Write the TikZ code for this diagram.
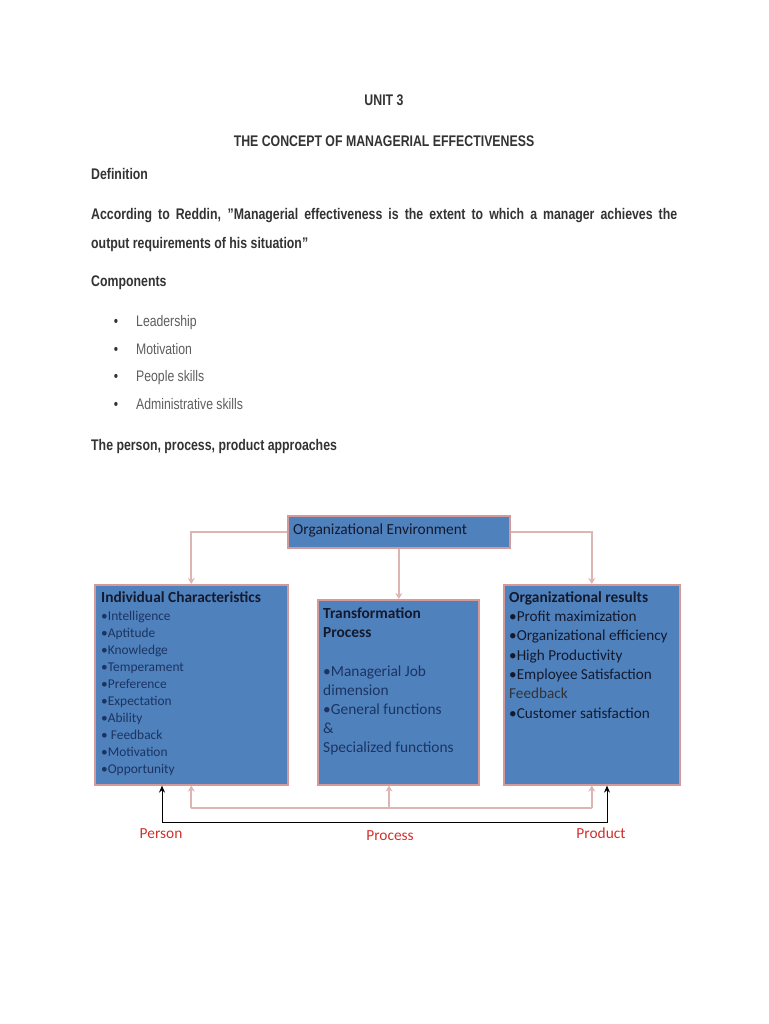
\documentclass[tikz,border=0pt]{standalone}
\usepackage{fontspec}
\usetikzlibrary{arrows.meta}
\newfontfamily\narrowfont[FakeStretch=0.80]{Liberation Sans}
\newfontfamily\calfont{Carlito}
\definecolor{boxblue}{HTML}{4F81BD}
\definecolor{boxedge}{HTML}{D49A9A}
\definecolor{pinkline}{HTML}{DDB5B3}
\definecolor{navytext}{HTML}{1C3461}
\definecolor{darktext}{HTML}{141A2E}
\definecolor{labelred}{HTML}{D0312D}
\definecolor{doctext}{HTML}{333333}
\definecolor{graytext}{HTML}{5E5E5E}
\tikzset{
  doc/.style={inner sep=0pt, anchor=base west, font=\narrowfont\bfseries\fontsize{15.4}{18}\selectfont, text=doctext},
  bul/.style={inner sep=0pt, anchor=base west, font=\narrowfont\fontsize{15.3}{18}\selectfont, text=graytext},
  bluebox/.style={draw=boxedge, line width=1.6pt, fill=boxblue, inner sep=0pt, anchor=north west},
  boxtitle/.style={inner sep=0pt, anchor=base west, font=\calfont\bfseries\fontsize{15.4}{17}\selectfont, text=darktext},
  boxitem/.style={inner sep=0pt, anchor=base west, font=\calfont\fontsize{13.4}{17}\selectfont, text=navytext},
  boxitemb/.style={inner sep=0pt, anchor=base west, font=\calfont\fontsize{15.4}{17}\selectfont, text=navytext},
  boxitemc/.style={inner sep=0pt, anchor=base west, font=\calfont\fontsize{15.2}{17}\selectfont, text=darktext},
  pinkarrow/.style={draw=pinkline, line width=1.8pt, -{Stealth[length=6pt,width=7pt]}},
  pinkline/.style={draw=pinkline, line width=1.8pt},
  blackarrow/.style={draw=black, line width=1pt, {Stealth[length=7pt,width=6pt]}-{Stealth[length=7pt,width=6pt]}},
  lbl/.style={inner sep=0pt, anchor=base, font=\calfont\fontsize{15.4}{17}\selectfont, text=labelred}
}
\begin{document}
\begin{tikzpicture}[x=1pt,y=-1pt]
\useasboundingbox[fill=white] (0,0) rectangle (768,1024);
% document text
\node[doc, anchor=base] (unit) at (384,106) {UNIT 3};
\node[doc, anchor=base] (title) at (384,147) {THE CONCEPT OF MANAGERIAL EFFECTIVENESS};
\node[doc] (defn) at (91,180) {Definition};
\node[doc] (quote1) at (91,219) {\makebox[586pt][s]{According to Reddin, ”Managerial effectiveness is the extent to which a manager achieves the}};
\node[doc] (quote2) at (91,248) {output requirements of his situation”};
\node[doc] (comp) at (91,286) {Components};
\foreach \t/\yy [count=\i] in {Leadership/326, Motivation/354, People skills/381, Administrative skills/409}{
  \node[bul] (b\i) at (136,\yy) {\t};
  \node[bul, anchor=base, text=doctext] (d\i) at (116,\yy) {\textbullet};
}
\node[doc] (ppp) at (91,450) {The person, process, product approaches};
% boxes
\node[bluebox, minimum width=222pt, minimum height=32pt] (env) at (287,515) {};
\node[inner sep=0pt, anchor=base west, font=\calfont\fontsize{15.4}{17}\selectfont, text=darktext] (envt) at (293,534) {Organizational Environment};
\node[bluebox, minimum width=193pt, minimum height=200pt] (ind) at (94,584) {};
\node[bluebox, minimum width=161pt, minimum height=185pt] (trans) at (317,599) {};
\node[bluebox, minimum width=176pt, minimum height=200pt] (res) at (503,584) {};
% individual characteristics
\node[boxtitle] (indt) at (101,602) {Individual Characteristics};
\foreach \t [count=\i] in {•Intelligence,•Aptitude,•Knowledge,•Temperament,•Preference,•Expectation,•Ability,• Feedback,•Motivation,•Opportunity}{
  \node[boxitem] (ind\i) at (101,603.5+17*\i) {\t};
}
% transformation
\node[boxtitle] (tt1) at (323,618) {Transformation};
\node[boxtitle] (tt2) at (323,637) {Process};
\node[boxitemb] (tr1) at (323,676) {•Managerial Job};
\node[boxitemb] (tr2) at (323,695) {dimension};
\node[boxitemb] (tr3) at (323,714) {•General functions};
\node[boxitemb] (tr4) at (323,733) {\&};
\node[boxitemb] (tr5) at (323,752) {Specialized functions};
% results
\node[boxtitle] (rt) at (509,602) {Organizational results};
\node[boxitemc] (r1) at (509,621) {•Profit maximization};
\node[boxitemc] (r2) at (509,640) {•Organizational efficiency};
\node[boxitemc] (r3) at (509,660) {•High Productivity};
\node[boxitemc] (r4) at (509,679) {•Employee Satisfaction};
\node[boxitemc, text=doctext] (r5) at (509,698) {Feedback};
\node[boxitemc] (r6) at (509,718) {•Customer satisfaction};
% top connectors
\draw[pinkarrow] (env.west) -| (ind.north);
\draw[pinkarrow] (env.south) -- (env.south |- trans.north);
\draw[pinkarrow] (env.east) -| (res.north);
% bottom pink connectors
\coordinate (pb) at (389,808);
\draw[pinkline] (ind.south |- pb) -- (res.south |- pb);
\draw[pinkarrow] (ind.south |- pb) -- (ind.south);
\draw[pinkarrow] (pb) -- (pb |- trans.south);
\draw[pinkarrow] (res.south |- pb) -- (res.south);
% black connector
\coordinate (bl) at (162,822);
\coordinate (br) at (607,822);
\draw[blackarrow] (bl |- ind.south) -- (bl) -- (br) -- (br |- res.south);
% labels
\node[lbl] (person) at (161,838) {Person};
\node[lbl] (process) at (390,840) {Process};
\node[lbl] (product) at (601,838) {Product};
\end{tikzpicture}
\end{document}
